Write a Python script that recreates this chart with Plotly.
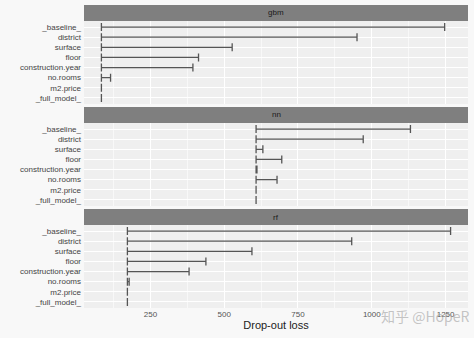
import plotly.graph_objects as go

# ---------------- data ----------------
models = ["gbm", "nn", "rf"]
variables = ["_baseline_", "district", "surface", "floor",
             "construction.year", "no.rooms", "m2.price", "_full_model_"]
loss_gbm = [1247, 950, 527, 413, 394, 115, 84, 84]
loss_nn = [1131, 971, 631, 695, 611, 679, 608, 608]
loss_rf = [1267, 932, 594, 438, 381, 178, 172, 172]
x_tick_vals = [250, 500, 750, 1000, 1250]
x_tick_text = ["250", "500", "750", "1000", "1250"]
axis_title = "Drop-out loss"

losses = {"gbm": loss_gbm, "nn": loss_nn, "rf": loss_rf}

# ---------------- layout geometry (pixels) ----------------
W, H = 474, 338
mt, mb, ml, mr = 5, 30, 84, 6
plot_h = H - mt - mb
bottom_px = H - mb


def py(p):
    return (bottom_px - p) / plot_h


strips = [(5, 21), (107, 123), (209, 225)]
panels = [(21, 104), (123, 206), (225, 308)]

PANEL_BG = "#efefef"
LINE_C = "#555555"
STRIP_C = "#7f7f7f"
FONT = "Liberation Sans, Arial, sans-serif"

fig = go.Figure()
layout = dict(
    width=W, height=H,
    margin=dict(l=ml, r=mr, t=mt, b=mb),
    paper_bgcolor="#f8f8f8",
    plot_bgcolor=PANEL_BG,
    showlegend=False,
    font=dict(family=FONT, size=8, color="#444444"),
)

shapes = []
annotations = []
xr = [25, 1326]
for i, m in enumerate(models):
    vals = losses[m]
    full = vals[-1]
    idx = "" if i == 0 else str(i + 1)
    fig.add_trace(go.Scatter(
        x=[full] * len(vals), y=variables,
        mode="markers",
        marker=dict(size=1, color="rgba(0,0,0,0)"),
        error_x=dict(type="data", symmetric=False,
                     array=[v - full for v in vals],
                     arrayminus=[0] * len(vals),
                     color=LINE_C, thickness=1.3, width=4),
        xaxis="x" + idx, yaxis="y" + idx,
        hoverinfo="skip",
    ))
    top, bot = panels[i]
    layout["xaxis" + idx] = dict(
        range=xr, anchor="y" + idx, domain=[0, 1],
        tickvals=x_tick_vals, ticktext=x_tick_text,
        showticklabels=(i == 2), ticks="",
        showgrid=True, gridcolor="white", gridwidth=1,
        minor=dict(showgrid=True, gridcolor="#f8f8f8", gridwidth=0.6,
                   tickvals=[125, 375, 625, 875, 1125]),
        zeroline=False, showline=False,
        tickfont=dict(size=8, color="#555555"),
        matches=None if i == 0 else "x",
    )
    layout["yaxis" + idx] = dict(
        type="category", categoryorder="array", categoryarray=variables,
        range=[len(variables) - 0.4, -0.6],
        anchor="x" + idx, domain=[py(bot), py(top)],
        showgrid=True, gridcolor="white", gridwidth=1,
        zeroline=False, showline=False, ticks="",
        ticklabelstandoff=2,
        tickfont=dict(size=8, color="#444444"),
    )
    s0, s1 = strips[i]
    shapes.append(dict(type="rect", xref="paper", yref="paper",
                       x0=0, x1=1, y0=py(s1), y1=py(s0),
                       fillcolor=STRIP_C, line=dict(width=0), layer="below"))
    annotations.append(dict(text=m, xref="paper", yref="paper",
                            x=0.5, y=(py(s0) + py(s1)) / 2,
                            showarrow=False, xanchor="center", yanchor="middle",
                            font=dict(size=8, color="#1a1a1a")))

layout["xaxis3"]["title"] = dict(text=axis_title, standoff=2,
                                 font=dict(size=11, color="#222222"))
annotations.append(dict(text="知乎 @HopeR", xref="paper", yref="paper",
                        x=(425 - ml) / (W - ml - mr), y=py(316),
                        showarrow=False, xanchor="center", yanchor="middle",
                        font=dict(size=14, color="rgba(160,160,160,0.6)",
                                  family="Noto Sans CJK SC")))
layout["shapes"] = shapes
layout["annotations"] = annotations
fig.update_layout(**layout)

fig.write_html("out.html")
